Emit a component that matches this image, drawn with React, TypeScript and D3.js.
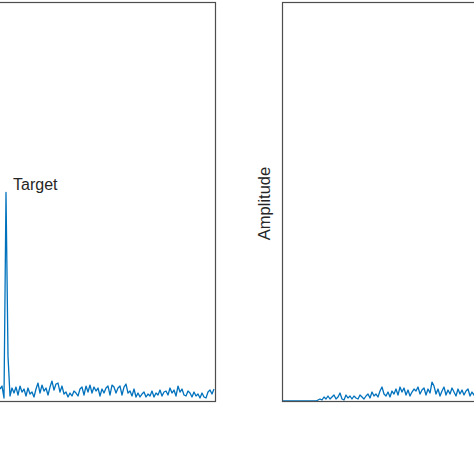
import React, { useRef, useEffect } from "react";
import * as d3 from "d3";

// Range profile amplitudes (visible window), sampled every 2 bins
const leftStartBin = 185;
const leftAmplitude = [
  1.2, 1.5, 0.3, 20.9, 4.5, 0.5, 1.3, 0.8, 1.4, 0.6, 1.5, 0.9, 1.2, 0.5, 1.3, 0.7,
  0.9, 0.4, 1.2, 1.8, 0.8, 1.6, 1.0, 1.3, 0.6, 1.4, 2.0, 1.1, 1.7, 1.8, 0.9, 1.5,
  0.7, 0.9, 0.4, 0.8, 0.5, 1.0, 0.8, 0.5, 1.2, 1.4, 0.6, 1.5, 0.9, 1.6, 0.8, 1.4,
  1.0, 1.3, 0.5, 1.2, 0.8, 1.3, 1.5, 0.6, 1.6, 1.4, 0.8, 1.3, 1.5, 0.6, 1.4, 1.7,
  0.8, 1.0, 0.5, 1.2, 0.4, 0.8, 0.4, 0.7, 0.9, 0.4, 0.7, 0.5, 1.0, 0.4, 0.8, 0.6,
  1.1, 0.5, 0.9, 1.0, 0.6, 1.3, 0.8, 1.1, 0.5, 1.5, 0.9, 1.2, 0.6, 0.5, 1.0, 0.8,
  0.4, 0.9, 0.5, 0.7, 0.3, 0.8, 0.4, 0.3, 0.9, 1.1, 0.7, 1.2,
];

const rightStartBin = 0;
const rightAmplitude = [
  0, 0, 0, 0, 0, 0, 0, 0, 0, 0, 0, 0, 0, 0, 0, 0, 0, 0,
  0.1, 0.2, 0.1, 0.4, 0.2, 0.5, 0.2, 0.4, 0.6, 0.2, 0.4, 0.8, 0.2, 0.1, 0.6, 0.3,
  0.5, 0.2, 0.5, 0.3, 0.2, 0.6, 0.4, 0.2, 0.5, 0.7, 0.3, 0.9, 0.5, 0.7, 0.4, 1.0,
  1.4, 0.7, 0.5, 0.9, 0.4, 1.0, 0.7, 1.2, 0.6, 1.4, 0.9, 1.3, 0.6, 1.1, 0.5, 0.9,
  1.2, 1.0, 1.4, 0.7, 1.1, 1.3, 0.6, 1.2, 0.8, 1.9, 1.5, 0.7, 1.2, 0.5, 1.0, 1.4,
  0.6, 1.1, 0.7, 1.3, 0.9, 0.5, 1.2, 0.7, 1.1, 0.6, 1.0, 1.2, 0.5, 0.9, 0.6, 1.1,
];

const peakLabel = "Target";
const yLabel = "Amplitude";

const App: React.FC = () => {
  const svgRef = useRef<SVGSVGElement | null>(null);

  useEffect(() => {
    if (!svgRef.current) return;
    const width = 474;
    const height = 474;
    const svg = d3.select(svgRef.current).attr("width", width).attr("height", height);
    svg.selectAll("*").remove();

    const top = 2;
    const bottom = 401;
    const yScale = d3.scaleLinear().domain([0, 40]).range([bottom, top]);

    const panels = [
      { left: -185, right: 215, data: leftAmplitude, start: leftStartBin, label: true },
      { left: 282, right: 682, data: rightAmplitude, start: rightStartBin, label: false },
    ];

    panels.forEach((p, pi) => {
      const xScale = d3.scaleLinear().domain([0, 400]).range([p.left, p.right]);
      const g = svg.append("g");

      const clipId = `clip-${pi}`;
      svg
        .append("clipPath")
        .attr("id", clipId)
        .append("rect")
        .attr("x", p.left)
        .attr("y", top)
        .attr("width", p.right - p.left)
        .attr("height", bottom - top);

      const line = d3
        .line<number>()
        .x((_d, i) => xScale(p.start + i * 2))
        .y((d) => yScale(d));

      g.append("path")
        .datum(p.data)
        .attr("clip-path", `url(#${clipId})`)
        .attr("fill", "none")
        .attr("stroke", "#0072BD")
        .attr("stroke-width", 1.3)
        .attr("stroke-linejoin", "round")
        .attr("d", line);

      // Axes box
      g.append("rect")
        .attr("x", p.left + 0.5)
        .attr("y", top + 0.5)
        .attr("width", p.right - p.left)
        .attr("height", bottom - top)
        .attr("fill", "none")
        .attr("stroke", "#4d4d4d")
        .attr("stroke-width", 1.2);

      if (p.label) {
        const peakIdx = d3.maxIndex(p.data);
        g.append("text")
          .attr("x", xScale(p.start + peakIdx * 2) + 7)
          .attr("y", yScale(p.data[peakIdx]) - 3)
          .attr("font-family", "Liberation Sans, Arial, sans-serif")
          .attr("font-size", 16)
          .attr("fill", "#262626")
          .text(peakLabel);
      } else {
        g.append("text")
          .attr("transform", `translate(${p.left - 12},${(top + bottom) / 2 + 2}) rotate(-90)`)
          .attr("text-anchor", "middle")
          .attr("font-family", "Liberation Sans, Arial, sans-serif")
          .attr("font-size", 16.5)
          .attr("fill", "#262626")
          .text(yLabel);
      }
    });
  }, []);

  return (
    <svg
      ref={svgRef}
      style={{ position: "absolute", left: 0, top: 0, background: "#fff" }}
    />
  );
};

export default App;
